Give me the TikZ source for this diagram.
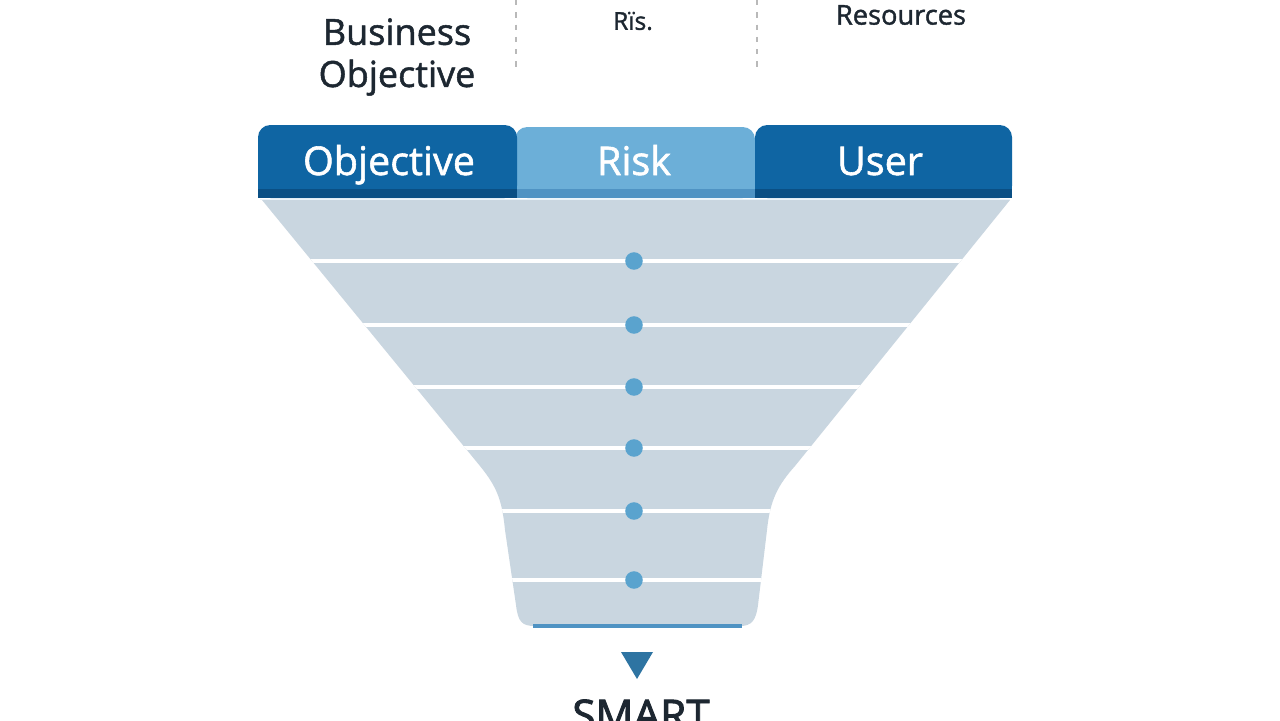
\documentclass[tikz,border=0pt]{standalone}
\usepackage{fontspec}
\setmainfont{Open Sans}
\newfontfamily\medfont[FakeBold=1.4]{Open Sans}
\newfontfamily\heavyfont[FakeBold=2.2]{Open Sans}
\usetikzlibrary{positioning,calc}

\definecolor{tabdark}{HTML}{0F65A3}
\definecolor{tabdarkedge}{HTML}{0A4F84}
\definecolor{tablight}{HTML}{6CAFD8}
\definecolor{tablightedge}{HTML}{4F93C3}
\definecolor{funnelfill}{HTML}{C9D6E0}
\definecolor{dotblue}{HTML}{5AA3CE}
\definecolor{arrowblue}{HTML}{2E74A2}
\definecolor{textdark}{HTML}{1D2731}

\tikzset{
  toplabel/.style={align=center, text=textdark, inner sep=0pt},
  tablabel/.style={anchor=base, text=white, inner sep=0pt, font=\medfont\fontsize{22.5}{26}\selectfont},
  funneldot/.style={circle, fill=dotblue, minimum size=10pt, inner sep=0pt},
  divider/.style={draw=gray!55, line width=0.6pt, dash pattern=on 3pt off 4pt},
}

\begin{document}
\begin{tikzpicture}[x=0.02cm, y=-0.02cm]
          \useasboundingbox (0, 0) rectangle (1280, 720);%
          \clip (0, 0) rectangle (1280, 720);%
          \fill[white] (0, 0) rectangle (1280, 720);%
          % headings above the tabs
          \node [toplabel, font=\medfont\fontsize{20.5}{24}\selectfont] (bizobj) at (397, 57) {Business\\Objective};%
          \node [toplabel, font=\medfont\fontsize{14}{17}\selectfont] (ris) at (633, 21) {Rïs.};%
          \node [toplabel, font=\medfont\fontsize{15.5}{19}\selectfont] (resources) at (901, 15) {Resources};%
          \coordinate (divA top) at (516, 0);%
          \coordinate (divA bot) at (516, 70);%
          \coordinate (divB top) at (757, 0);%
          \coordinate (divB bot) at (757, 70);%
          \draw [divider] (divA top) -- (divA bot);%
          \draw [divider] (divB top) -- (divB bot);%
          % funnel body
          \fill [funnelfill] (262, 200) -- (480, 466)
            .. controls (497, 487) and (502, 500) .. (505, 530) -- (516, 605)
            .. controls (518, 622) and (522, 626) .. (535, 626) -- (740, 626)
            .. controls (752, 626) and (756, 620) .. (758, 605) -- (767, 530)
            .. controls (770, 500) and (778, 485) .. (795, 466) -- (1010, 200) -- cycle;%
          \foreach \y in {261, 325, 387, 448, 511, 580} {%
            \begin{scope}
              \clip (262, 200) -- (480, 466)
                .. controls (497, 487) and (502, 500) .. (505, 530) -- (516, 605)
                -- (758, 605) -- (767, 530)
                .. controls (770, 500) and (778, 485) .. (795, 466) -- (1010, 200) -- cycle;%
              \draw [white, line width=1.8pt] (200, \y) -- (1100, \y);%
            \end{scope}
          }%
          \draw [tablightedge, line width=1.8pt] (533, 626) -- (742, 626);%
          \foreach \y [count=\i] in {261, 325, 387, 448, 511, 580}
            \node [funneldot] (dot\i) at (634, \y) {};%
          % tabs
          \fill [tablight, rounded corners=7pt] (515, 127) rectangle (755, 198);%
          \fill [tablight] (515, 165) rectangle (755, 198);%
          \fill [tablightedge] (515, 189) rectangle (755, 198);%
          \fill [tabdark, rounded corners=7pt] (258, 125) rectangle (517, 198);%
          \fill [tabdark] (258, 165) rectangle (517, 198);%
          \fill [tabdarkedge] (258, 189) rectangle (517, 198);%
          \fill [tabdark, rounded corners=7pt] (755, 125) rectangle (1012, 198);%
          \fill [tabdark] (755, 165) rectangle (1012, 198);%
          \fill [tabdarkedge] (755, 189) rectangle (1012, 198);%
          \draw [white!85!tablight, line width=0.8pt] (260, 199.5) -- (1010, 199.5);%
          \node [tablabel] (objtab) at (389, 175) {Objective};%
          \node [tablabel] (risktab) at (634, 175) {Risk};%
          \node [tablabel] (usertab) at (880, 175) {User};%
          % outcome
          \fill [arrowblue] (621, 652) -- (653, 652) -- (637, 679) -- cycle;%
          \node [anchor=base, text=textdark, inner sep=0pt, font=\heavyfont\fontsize{24}{28}\selectfont] (smart) at (641, 730) {SMART};%
        \end{tikzpicture}
\end{document}
